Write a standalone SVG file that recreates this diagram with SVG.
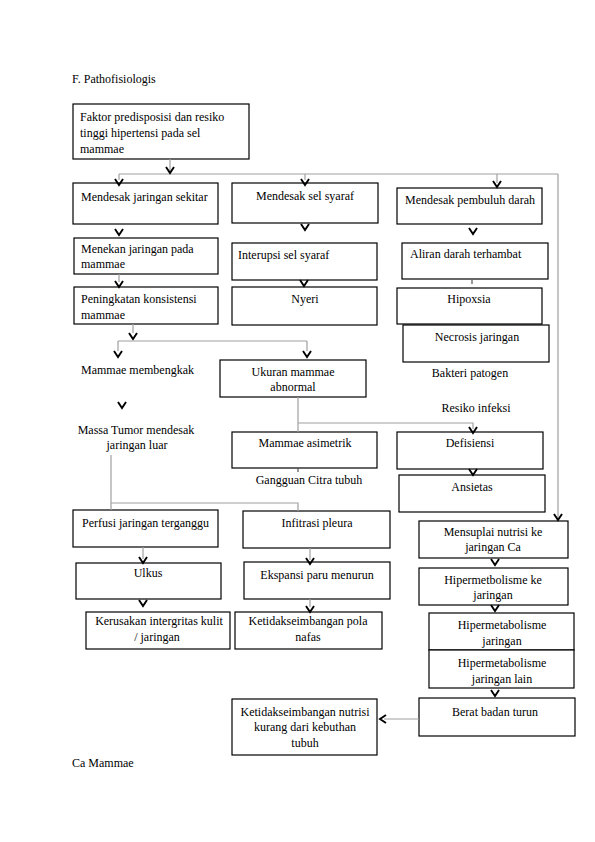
<svg xmlns="http://www.w3.org/2000/svg" xmlns:xlink="http://www.w3.org/1999/xlink" width="595" height="842" viewBox="0 0 595 842">
<style>
.bg{fill:#ffffff}
.box{fill:#ffffff;stroke:#000000;stroke-width:1.2}
.t{font-family:"Liberation Serif","Times New Roman",serif;font-size:12px;fill:#000000}
.m{text-anchor:middle}
.c{fill:none;stroke:#a0a0a0;stroke-width:1.2}
.mk{fill:none;stroke:#555555;stroke-width:1.2}
</style>
<defs>
<path id="chev" d="M-4,-3 L0,3 L4,-3" fill="none" stroke="#000000" stroke-width="1.9"/>
<path id="chevL" d="M3,-4 L-3,0 L3,4" fill="none" stroke="#000000" stroke-width="1.9"/>
</defs>
<rect class="bg" x="0" y="0" width="595" height="842"/>

<g id="title"><text class="t" x="72" y="83">F. Pathofisiologis</text></g>

<g id="n-faktor"><rect class="box" x="73" y="104" width="176" height="55"/>
<text class="t" x="80" y="121">Faktor predisposisi dan resiko</text>
<text class="t" x="80" y="137">tinggi hipertensi  pada sel</text>
<text class="t" x="80" y="153">mammae</text></g>

<g id="n-jaringan-sekitar"><rect class="box" x="73" y="183" width="145" height="41"/>
<text class="t" x="81" y="201">Mendesak jaringan sekitar</text></g>

<g id="n-sel-syaraf"><rect class="box" x="232" y="183" width="146" height="40"/>
<text class="t m" x="305" y="200">Mendesak sel syaraf</text></g>

<g id="n-pembuluh"><rect class="box" x="397" y="188" width="145" height="36"/>
<text class="t m" x="470" y="204">Mendesak pembuluh darah</text></g>

<g id="n-menekan"><rect class="box" x="74" y="238" width="144" height="36"/>
<text class="t" x="81" y="253">Menekan jaringan pada</text>
<text class="t" x="81" y="268">mammae</text></g>

<g id="n-interupsi"><rect class="box" x="232" y="243" width="145" height="37"/>
<text class="t" x="238" y="259">Interupsi sel syaraf</text></g>

<g id="n-aliran"><rect class="box" x="402" y="243" width="146" height="36"/>
<text class="t" x="410" y="258">Aliran darah terhambat</text></g>

<g id="n-peningkatan"><rect class="box" x="74" y="287" width="144" height="37"/>
<text class="t" x="81" y="303">Peningkatan konsistensi</text>
<text class="t" x="81" y="319">mammae</text></g>

<g id="n-nyeri"><rect class="box" x="232" y="287" width="145" height="38"/>
<text class="t m" x="305" y="303">Nyeri</text></g>

<g id="n-hipoxsia"><rect class="box" x="397" y="288" width="145" height="36"/>
<text class="t m" x="469" y="303">Hipoxsia</text></g>

<g id="n-necrosis"><rect class="box" x="403" y="325" width="146" height="37"/>
<text class="t m" x="477" y="341">Necrosis jaringan</text></g>

<g id="n-membengkak"><text class="t" x="81" y="374">Mammae membengkak</text></g>

<g id="n-ukuran"><rect class="box" x="220" y="360" width="146" height="37"/>
<text class="t m" x="293" y="376">Ukuran mammae</text>
<text class="t m" x="293" y="391">abnormal</text></g>

<g id="n-bakteri"><text class="t m" x="470" y="377">Bakteri patogen</text></g>

<g id="n-resiko"><text class="t m" x="476" y="412">Resiko infeksi</text></g>

<g id="n-massa"><text class="t m" x="136" y="434">Massa Tumor mendesak</text>
<text class="t m" x="137" y="449">jaringan luar</text></g>

<g id="n-asimetrik"><rect class="box" x="232" y="432" width="145" height="36"/>
<text class="t m" x="305" y="447">Mammae asimetrik</text></g>

<g id="n-gangguan"><text class="t m" x="309" y="484">Gangguan Citra tubuh</text></g>

<g id="n-defisiensi"><rect class="box" x="397" y="432" width="146" height="37"/>
<text class="t m" x="470" y="447">Defisiensi</text></g>

<g id="n-ansietas"><rect class="box" x="399" y="475" width="146" height="37"/>
<text class="t m" x="472" y="491">Ansietas</text></g>

<g id="n-perfusi"><rect class="box" x="73" y="510" width="145" height="37"/>
<text class="t" x="82" y="527">Perfusi jaringan terganggu</text></g>

<g id="n-infitrasi"><rect class="box" x="243" y="511" width="147" height="37"/>
<text class="t m" x="317" y="527">Infitrasi pleura</text></g>

<g id="n-mensuplai"><rect class="box" x="419" y="521" width="149" height="37"/>
<text class="t m" x="493" y="536">Mensuplai nutrisi ke</text>
<text class="t m" x="493" y="551">jaringan Ca</text></g>

<g id="n-ulkus"><rect class="box" x="76" y="563" width="145" height="36"/>
<text class="t m" x="148" y="577">Ulkus</text></g>

<g id="n-ekspansi"><rect class="box" x="244" y="562" width="146" height="37"/>
<text class="t m" x="317" y="579">Ekspansi paru menurun</text></g>

<g id="n-hiper-ke"><rect class="box" x="419" y="568" width="149" height="37"/>
<text class="t m" x="493" y="584">Hipermetbolisme ke</text>
<text class="t m" x="493" y="599">jaringan</text></g>

<g id="n-kerusakan"><rect class="box" x="86" y="612" width="144" height="37"/>
<text class="t m" x="159" y="625">Kerusakan intergritas kulit</text>
<text class="t m" x="157" y="641">/ jaringan</text></g>

<g id="n-pola-nafas"><rect class="box" x="235" y="612" width="147" height="37"/>
<text class="t m" x="308" y="625">Ketidakseimbangan pola</text>
<text class="t m" x="308" y="641">nafas</text></g>

<g id="n-hiper-jaringan"><rect class="box" x="429" y="613" width="145" height="37"/>
<text class="t m" x="502" y="629">Hipermetabolisme</text>
<text class="t m" x="502" y="645">jaringan</text></g>

<g id="n-hiper-lain"><rect class="box" x="429" y="650" width="145" height="38"/>
<text class="t m" x="502" y="667">Hipermetabolisme</text>
<text class="t m" x="502" y="683">jaringan  lain</text></g>

<g id="n-berat"><rect class="box" x="419" y="698" width="156" height="38"/>
<text class="t m" x="495" y="716">Berat badan turun</text></g>

<g id="n-nutrisi"><rect class="box" x="232" y="699" width="145" height="56"/>
<text class="t m" x="305" y="716">Ketidakseimbangan nutrisi</text>
<text class="t m" x="305" y="731">kurang dari kebuthan</text>
<text class="t m" x="305" y="747">tubuh</text></g>

<g id="footer"><text class="t" x="72" y="767">Ca Mammae</text></g>

<g id="connectors">
<path class="c" d="M170,159 V174 M119,174 H558 M119,174 V180 M305,174 V180 M497,174 V183 M558,174 V519"/>
<use href="#chev" x="170" y="170"/>
<use href="#chev" x="119" y="182"/>
<use href="#chev" x="305" y="182"/>
<use href="#chev" x="497" y="184"/>
<use href="#chev" x="558" y="517"/>
<use href="#chev" x="119" y="232"/>
<use href="#chev" x="305" y="227"/>
<use href="#chev" x="473" y="231"/>
<path class="c" d="M119,274 V282"/>
<use href="#chev" x="119" y="284"/>
<use href="#chev" x="304" y="283"/>
<path class="mk" d="M472,280 V284"/>
<path class="c" d="M133,324 V333"/>
<use href="#chev" x="133" y="336"/>
<path class="c" d="M118,341 H307 M118,341 V351 M307,341 V351"/>
<use href="#chev" x="118" y="354"/>
<use href="#chev" x="307" y="354"/>
<use href="#chev" x="122" y="405"/>
<path class="c" d="M298,397 V432 M298,423 H473 V429"/>
<use href="#chev" x="473" y="430"/>
<path class="mk" d="M298,468 V472"/>
<use href="#chev" x="473" y="472"/>
<path class="c" d="M111,455 V510 M111,503 H298 V511"/>
<path class="c" d="M143,547 V559"/>
<use href="#chev" x="143" y="560"/>
<use href="#chev" x="143" y="603"/>
<path class="c" d="M310,548 V560"/>
<use href="#chev" x="310" y="561"/>
<path class="c" d="M310,599 V607"/>
<use href="#chev" x="310" y="609"/>
<use href="#chev" x="495" y="562"/>
<use href="#chev" x="495" y="608"/>
<use href="#chev" x="495" y="693"/>
<path class="c" d="M419,719 H384"/>
<use href="#chevL" x="383" y="719"/>
</g>
</svg>
